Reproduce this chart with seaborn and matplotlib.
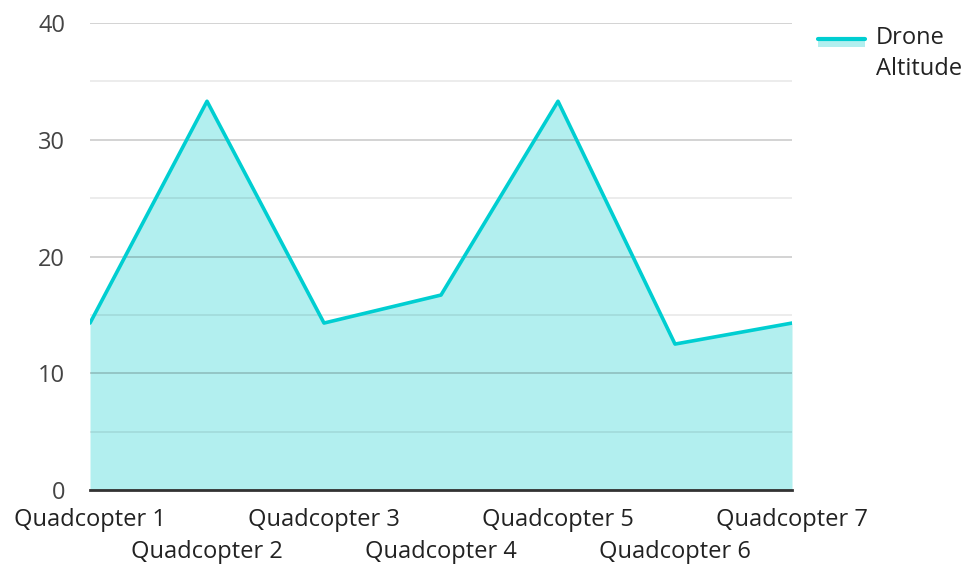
import numpy as np
import pandas as pd
import seaborn as sns
import matplotlib.pyplot as plt
from matplotlib.lines import Line2D
from matplotlib.patches import Rectangle
from matplotlib.legend_handler import HandlerBase

# Data
drones = ['Quadcopter 1', 'Quadcopter 2', 'Quadcopter 3', 'Quadcopter 4',
          'Quadcopter 5', 'Quadcopter 6', 'Quadcopter 7']
altitude = [14.3, 33.3, 14.3, 16.7, 33.3, 12.5, 14.3]

df = pd.DataFrame({'drone': drones, 'altitude': altitude})
df['pos'] = np.arange(len(df))

sns.set_style('white')
plt.rcParams['font.family'] = ['Open Sans', 'DejaVu Sans']

line_color = '#00CED1'
fill_color = '#B2EFEF'
fs = 17

fig = plt.figure(figsize=(9.7, 5.64), dpi=100)
ax = fig.add_axes([0.0928, 0.1312, 0.7237, 0.828])

ax.fill_between(df['pos'], df['altitude'], 0, color=fill_color, lw=0, zorder=2)
sns.lineplot(data=df, x='pos', y='altitude', ax=ax, color=line_color,
             linewidth=2.6, zorder=5, legend=False)

ax.set_xlim(0, len(df) - 1)
ax.set_ylim(0, 40)

# gridlines drawn over the fill, semi-transparent
ax.set_yticks([0, 10, 20, 30, 40])
ax.set_yticks([5, 15, 25, 35], minor=True)
ax.set_axisbelow(False)
ax.grid(axis='y', which='major', color='black', alpha=0.2, linewidth=1.2, zorder=3)
ax.grid(axis='y', which='minor', color='black', alpha=0.09, linewidth=1.2, zorder=3)
ax.grid(axis='x', visible=False)

for s in ['top', 'right', 'left']:
    ax.spines[s].set_visible(False)
ax.spines['bottom'].set_color('#333333')
ax.spines['bottom'].set_linewidth(2)
ax.spines['bottom'].set_zorder(6)

ax.tick_params(axis='y', which='both', length=0, labelsize=fs,
               labelcolor='#444444', pad=18)
ax.tick_params(axis='x', length=0, labelsize=fs, labelcolor='#222222')
ax.set_xticks(df['pos'])
ax.set_xticklabels(df['drone'])
# staggered labels: odd ones on a second row
for i, tick in enumerate(ax.xaxis.get_major_ticks()):
    tick.set_pad(36 if i % 2 else 13)
ax.set_xlabel('')
ax.set_ylabel('')


class FillLineHandler(HandlerBase):
    def create_artists(self, legend, orig_handle, xdescent, ydescent,
                       width, height, fontsize, trans):
        top = -ydescent + height * 0.75 + 8
        r = Rectangle((-xdescent, top - 6), width, 6,
                      facecolor=fill_color, edgecolor='none', transform=trans)
        l = Line2D([-xdescent, -xdescent + width], [top, top],
                   color=line_color, linewidth=3, transform=trans)
        return [r, l]


leg = fig.legend(['dummy'], ['Drone\nAltitude'], handler_map={str: FillLineHandler()},
                 loc='upper left', bbox_to_anchor=(0.843, 0.954), frameon=False,
                 fontsize=fs, handlelength=2.0, handletextpad=0.47, borderpad=0,
                 borderaxespad=0)
for t in leg.get_texts():
    t.set_color('#222222')
    t.set_linespacing(1.4)

fig.savefig('out.png', dpi=100)
